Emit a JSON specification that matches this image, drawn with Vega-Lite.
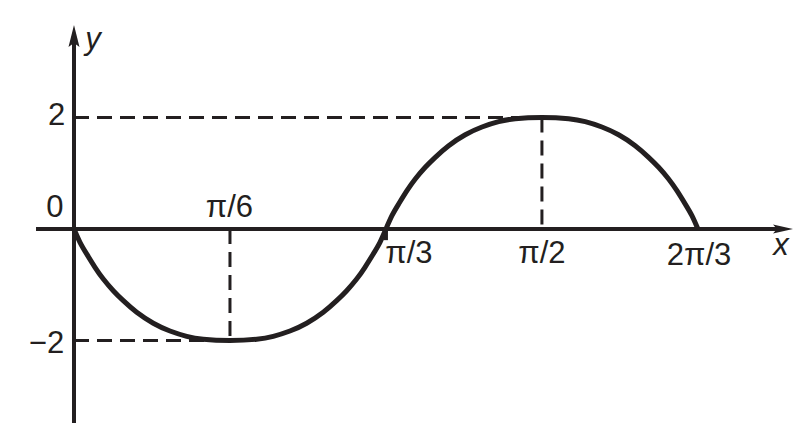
{
  "$schema": "https://vega.github.io/schema/vega-lite/v6.json",
  "width": 807,
  "height": 438,
  "autosize": "none",
  "padding": 0,
  "background": "white",
  "config": {"view": {"stroke": null}, "font": "Liberation Sans"},
  "encoding": {
    "x": {"type": "quantitative", "scale": {"domain": [-0.2484, 2.4606], "nice": false, "zero": false}, "axis": null},
    "y": {"type": "quantitative", "scale": {"domain": [-3.749, 4.108], "nice": false, "zero": false}, "axis": null}
  },
  "layer": [
    {
      "data": {"values": [
        {"x": 0, "x2": 1.5708, "y": 2, "y2": 2},
        {"x": 1.5708, "x2": 1.5708, "y": 2, "y2": 0},
        {"x": 0, "x2": 0.5236, "y": -2, "y2": -2},
        {"x": 0.5236, "x2": 0.5236, "y": 0, "y2": -2}
      ]},
      "mark": {"type": "rule", "color": "#231f20", "strokeWidth": 3, "strokeDash": [15, 8]},
      "encoding": {"x": {"field": "x"}, "x2": {"field": "x2"}, "y": {"field": "y"}, "y2": {"field": "y2"}}
    },
    {
      "data": {"values": [
        {"x": -0.1275, "x2": 2.37, "y": 0, "y2": 0},
        {"x": 0, "x2": 0, "y": -3.48, "y2": 3.39},
        {"x": 1.0472, "x2": 1.0472, "y": 0, "y2": -0.2}
      ]},
      "mark": {"type": "rule", "color": "#231f20", "strokeWidth": 4},
      "encoding": {"x": {"field": "x"}, "x2": {"field": "x2"}, "y": {"field": "y"}, "y2": {"field": "y2"}}
    },
    {
      "data": {"values": [
        {"x": 2.4136, "y": 0, "dir": "right"},
        {"x": 0, "y": 3.659, "dir": "up"}
      ]},
      "mark": {"type": "point", "filled": true, "opacity": 1, "color": "#231f20", "size": 400},
      "encoding": {
        "x": {"field": "x"},
        "y": {"field": "y"},
        "shape": {"field": "dir", "type": "nominal", "legend": null,
          "scale": {"domain": ["right", "up"], "range": ["M0,0L-2,-0.45L-1.6,0L-2,0.45Z", "M0,0L-0.55,2.2L0,1.8L0.55,2.2Z"]}}
      }
    },
    {
      "data": {"values": [
        {"x": 0, "y": 0}, {"x": 0.0201, "y": -0.239}, {"x": 0.0426, "y": -0.448},
        {"x": 0.0705, "y": -0.687}, {"x": 0.0984, "y": -0.897}, {"x": 0.1319, "y": -1.107},
        {"x": 0.1655, "y": -1.286}, {"x": 0.2105, "y": -1.494}, {"x": 0.2662, "y": -1.69},
        {"x": 0.3223, "y": -1.83}, {"x": 0.3783, "y": -1.925}, {"x": 0.434, "y": -1.978},
        {"x": 0.5236, "y": -2},
        {"x": 0.6132, "y": -1.978}, {"x": 0.6689, "y": -1.925}, {"x": 0.7249, "y": -1.83},
        {"x": 0.781, "y": -1.69}, {"x": 0.8367, "y": -1.494}, {"x": 0.8817, "y": -1.286},
        {"x": 0.9153, "y": -1.107}, {"x": 0.9488, "y": -0.897}, {"x": 0.9767, "y": -0.687},
        {"x": 1.0046, "y": -0.448}, {"x": 1.0271, "y": -0.239}, {"x": 1.0472, "y": 0},
        {"x": 1.0673, "y": 0.239}, {"x": 1.0898, "y": 0.448}, {"x": 1.1177, "y": 0.687},
        {"x": 1.1456, "y": 0.897}, {"x": 1.1791, "y": 1.107}, {"x": 1.2127, "y": 1.286},
        {"x": 1.2577, "y": 1.494}, {"x": 1.3134, "y": 1.69}, {"x": 1.3695, "y": 1.83},
        {"x": 1.4255, "y": 1.925}, {"x": 1.4812, "y": 1.978}, {"x": 1.5708, "y": 2},
        {"x": 1.6604, "y": 1.978}, {"x": 1.7161, "y": 1.925}, {"x": 1.7721, "y": 1.83},
        {"x": 1.8282, "y": 1.69}, {"x": 1.8839, "y": 1.494}, {"x": 1.9289, "y": 1.286},
        {"x": 1.9625, "y": 1.107}, {"x": 1.996, "y": 0.897}, {"x": 2.0239, "y": 0.687},
        {"x": 2.0518, "y": 0.448}, {"x": 2.0743, "y": 0.239}, {"x": 2.0944, "y": 0}
      ]},
      "mark": {"type": "line", "color": "#231f20", "strokeWidth": 5, "interpolate": "natural"},
      "encoding": {"x": {"field": "x"}, "y": {"field": "y"}}
    },
    {
      "data": {"values": [
        {"x": -0.0638, "y": 0.215, "label": "0"},
        {"x": 0.522, "y": 0.215, "label": "π/6"},
        {"x": 1.1245, "y": -0.61, "label": "π/3"},
        {"x": 1.5708, "y": -0.61, "label": "π/2"},
        {"x": 2.098, "y": -0.646, "label": "2π/3"},
        {"x": -0.0587, "y": 1.865, "label": "2"},
        {"x": -0.0923, "y": -2.224, "label": "−2"}
      ]},
      "mark": {"type": "text", "align": "center", "baseline": "alphabetic", "fontSize": 31, "color": "#231f20"},
      "encoding": {"x": {"field": "x"}, "y": {"field": "y"}, "text": {"field": "label"}}
    },
    {
      "data": {"values": [
        {"x": 2.373, "y": -0.466, "label": "x"},
        {"x": 0.0638, "y": 3.229, "label": "y"}
      ]},
      "mark": {"type": "text", "align": "center", "baseline": "alphabetic", "fontSize": 31, "fontStyle": "italic", "color": "#231f20"},
      "encoding": {"x": {"field": "x"}, "y": {"field": "y"}, "text": {"field": "label"}}
    }
  ]
}
